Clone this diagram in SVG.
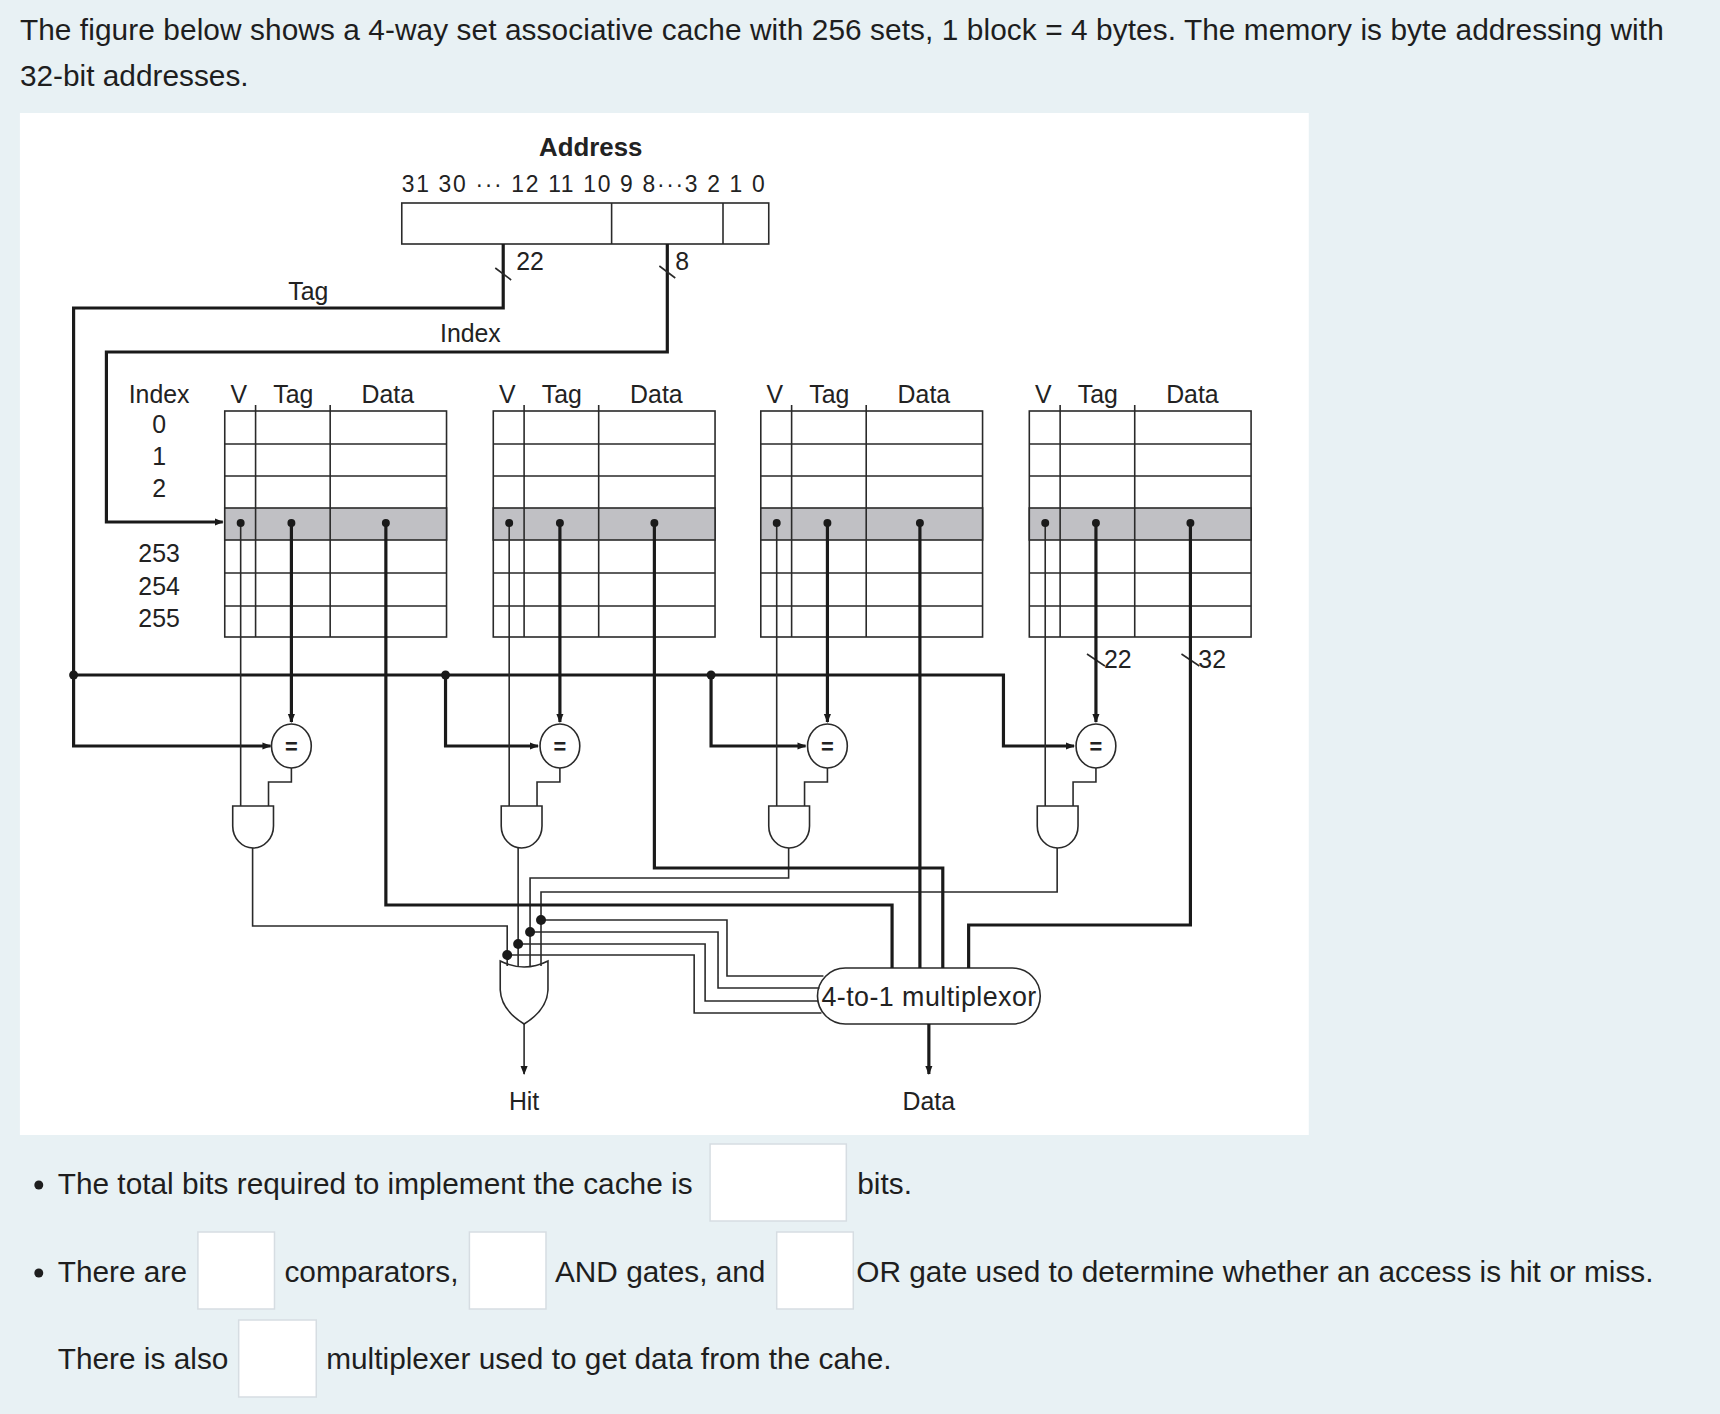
<svg xmlns="http://www.w3.org/2000/svg" width="1720" height="1414" viewBox="0 0 1720 1414">
<defs>
<style>
.t{font-family:"Liberation Sans",Arial,sans-serif;fill:#222}
.q{font-size:30px;fill:#1e1e1e}
.d{font-size:25px}
.th{fill:none;stroke:#1a1a1a;stroke-width:3.2}
.tn{fill:none;stroke:#2a2a2a;stroke-width:1.6}
.g{fill:#fff;stroke:#2a2a2a;stroke-width:1.6}
.box{fill:#fff;stroke:#d6dde2;stroke-width:1.5}
</style>
<marker id="a" viewBox="0 0 10 10" refX="9" refY="5" markerWidth="9" markerHeight="9" markerUnits="userSpaceOnUse" orient="auto"><path d="M0,1 L10,5 L0,9 Z" fill="#1a1a1a"/></marker>
</defs>
<rect width="1720" height="1414" fill="#e8f1f4"/>
<g transform="scale(0.9945,1)">
<text class="t q" x="20" y="40" textLength="1653">The figure below shows a 4-way set associative cache with 256 sets, 1 block = 4 bytes. The memory is byte addressing with</text>
<text class="t q" x="20" y="86">32-bit addresses.</text>
<rect x="20" y="113" width="1296" height="1022" fill="#fff"/>

<g id="address">
<text class="t" x="594" y="156" text-anchor="middle" font-size="26" font-weight="bold">Address</text>
<text class="t" x="404" y="192" font-size="23" textLength="365">31 30 ··· 12 11 10 9 8···3 2 1 0</text>
<rect class="g" x="404" y="203" width="369" height="41"/>
<line class="tn" x1="615" y1="203" x2="615" y2="244"/>
<line class="tn" x1="727" y1="203" x2="727" y2="244"/>
</g>

<g id="labels" class="t d">
<text x="310" y="300" text-anchor="middle">Tag</text>
<text x="473" y="342" text-anchor="middle">Index</text>
<text x="519" y="270">22</text>
<text x="679" y="270">8</text>
<text x="1110" y="668">22</text>
<text x="1205" y="668">32</text>
<text x="160" y="403" text-anchor="middle">Index</text>
<text x="160" y="433" text-anchor="middle">0</text>
<text x="160" y="465" text-anchor="middle">1</text>
<text x="160" y="497" text-anchor="middle">2</text>
<text x="160" y="562" text-anchor="middle">253</text>
<text x="160" y="595" text-anchor="middle">254</text>
<text x="160" y="627" text-anchor="middle">255</text>
<text x="527" y="1110" text-anchor="middle">Hit</text>
<text x="934" y="1110" text-anchor="middle">Data</text>
</g>

<g id="way1">
<text class="t d" x="240" y="403" text-anchor="middle">V</text><text class="t d" x="295" y="403" text-anchor="middle">Tag</text><text class="t d" x="390" y="403" text-anchor="middle">Data</text>
<rect class="g" x="226" y="411" width="223" height="226"/>
<rect x="226" y="508" width="223" height="32" fill="#c0c0c4" stroke="#2a2a2a" stroke-width="1.6"/>
<path class="tn" d="M226,444H449M226,476H449M226,573H449M226,606H449M257,405V637M332,405V637"/>
</g>
<g id="way2">
<text class="t d" x="510" y="403" text-anchor="middle">V</text><text class="t d" x="565" y="403" text-anchor="middle">Tag</text><text class="t d" x="660" y="403" text-anchor="middle">Data</text>
<rect class="g" x="496" y="411" width="223" height="226"/>
<rect x="496" y="508" width="223" height="32" fill="#c0c0c4" stroke="#2a2a2a" stroke-width="1.6"/>
<path class="tn" d="M496,444H719M496,476H719M496,573H719M496,606H719M527,405V637M602,405V637"/>
</g>
<g id="way3">
<text class="t d" x="779" y="403" text-anchor="middle">V</text><text class="t d" x="834" y="403" text-anchor="middle">Tag</text><text class="t d" x="929" y="403" text-anchor="middle">Data</text>
<rect class="g" x="765" y="411" width="223" height="226"/>
<rect x="765" y="508" width="223" height="32" fill="#c0c0c4" stroke="#2a2a2a" stroke-width="1.6"/>
<path class="tn" d="M765,444H988M765,476H988M765,573H988M765,606H988M796,405V637M871,405V637"/>
</g>
<g id="way4">
<text class="t d" x="1049" y="403" text-anchor="middle">V</text><text class="t d" x="1104" y="403" text-anchor="middle">Tag</text><text class="t d" x="1199" y="403" text-anchor="middle">Data</text>
<rect class="g" x="1035" y="411" width="223" height="226"/>
<rect x="1035" y="508" width="223" height="32" fill="#c0c0c4" stroke="#2a2a2a" stroke-width="1.6"/>
<path class="tn" d="M1035,444H1258M1035,476H1258M1035,573H1258M1035,606H1258M1066,405V637M1141,405V637"/>
</g>

<g id="comparators">
<ellipse class="g" cx="293" cy="746" rx="20" ry="22"/><text class="t" x="293" y="754" font-size="22" font-weight="bold" text-anchor="middle">=</text>
<ellipse class="g" cx="563" cy="746" rx="20" ry="22"/><text class="t" x="563" y="754" font-size="22" font-weight="bold" text-anchor="middle">=</text>
<ellipse class="g" cx="832" cy="746" rx="20" ry="22"/><text class="t" x="832" y="754" font-size="22" font-weight="bold" text-anchor="middle">=</text>
<ellipse class="g" cx="1102" cy="746" rx="20" ry="22"/><text class="t" x="1102" y="754" font-size="22" font-weight="bold" text-anchor="middle">=</text>
</g>
<g id="ands">
<path class="g" d="M234,806H275V826A20.5,22 0 0 1 234,826Z"/>
<path class="g" d="M504,806H545V826A20.5,22 0 0 1 504,826Z"/>
<path class="g" d="M773,806H814V826A20.5,22 0 0 1 773,826Z"/>
<path class="g" d="M1043,806H1084V826A20.5,22 0 0 1 1043,826Z"/>
</g>
<g id="or">
<path class="g" d="M503,961Q527,973 551,961V990Q550,1010 527,1024Q504,1010 503,990Z"/>
</g>
<g id="mux">
<rect class="g" x="822" y="968" width="224" height="56" rx="28"/>
<text class="t" x="826" y="1006" font-size="27" textLength="216">4-to-1 multiplexor</text>
</g>

<g id="connectors">
<path class="th" d="M506,244V308H74V746H272" marker-end="url(#a)"/>
<path class="th" d="M671,244V352H107V522H224" marker-end="url(#a)"/>
<path class="tn" d="M498,268L514,280M663,266L679,278M1093,654L1111,666M1188,654L1206,666"/>
<path class="th" d="M74,675H1009V746H1080" marker-end="url(#a)"/>
<path class="th" d="M448,675V746H541" marker-end="url(#a)"/>
<path class="th" d="M715,675V746H810" marker-end="url(#a)"/>
<path class="th" d="M293,523V722" marker-end="url(#a)"/>
<path class="th" d="M563,523V722" marker-end="url(#a)"/>
<path class="th" d="M832,523V722" marker-end="url(#a)"/>
<path class="th" d="M1102,523V722" marker-end="url(#a)"/>
<path class="tn" d="M242,523V806M512,523V806M781,523V806M1051,523V806"/>
<path class="tn" d="M293,768V782H270V806M563,768V782H540V806M832,768V782H809V806M1102,768V782H1079V806"/>
<path class="tn" d="M254,848V926H510V966M521,848V966M793,848V878H533V966M1063,848V892H544V966"/>
<path class="tn" d="M544,920H731V976H828M533,932H722V988H824M521,944H709V1001H823M510,955H698V1013H826"/>
<path class="th" d="M388,523V905H897V968M658,523V868H948V968M925,523V968M1197,523V925H974V968"/>
<path class="tn" d="M527,1024V1074" marker-end="url(#a)"/>
<path class="th" d="M934,1024V1074" marker-end="url(#a)"/>
<g fill="#1a1a1a">
<circle cx="242" cy="523" r="4"/><circle cx="293" cy="523" r="4"/><circle cx="388" cy="523" r="4"/>
<circle cx="512" cy="523" r="4"/><circle cx="563" cy="523" r="4"/><circle cx="658" cy="523" r="4"/>
<circle cx="781" cy="523" r="4"/><circle cx="832" cy="523" r="4"/><circle cx="925" cy="523" r="4"/>
<circle cx="1051" cy="523" r="4"/><circle cx="1102" cy="523" r="4"/><circle cx="1197" cy="523" r="4"/>
<circle cx="74" cy="675" r="4.5"/><circle cx="448" cy="675" r="4.5"/><circle cx="715" cy="675" r="4.5"/>
<circle cx="544" cy="920" r="5"/><circle cx="533" cy="932" r="5"/><circle cx="521" cy="944" r="5"/><circle cx="510" cy="955" r="5"/>
</g>
</g>

<g id="questions">
<circle cx="39" cy="1185" r="4.5" fill="#1e1e1e"/>
<text class="t q" x="58" y="1194">The total bits required to implement the cache is</text>
<rect class="box" x="714" y="1144" width="137" height="77"/>
<text class="t q" x="862" y="1194">bits.</text>
<circle cx="39" cy="1273" r="4.5" fill="#1e1e1e"/>
<text class="t q" x="58" y="1282">There are</text>
<rect class="box" x="199" y="1232" width="77" height="77"/>
<text class="t q" x="286" y="1282">comparators,</text>
<rect class="box" x="472" y="1232" width="77" height="77"/>
<text class="t q" x="558" y="1282">AND gates, and</text>
<rect class="box" x="781" y="1232" width="77" height="77"/>
<text class="t q" x="861" y="1282">OR gate used to determine whether an access is hit or miss.</text>
<text class="t q" x="58" y="1369">There is also</text>
<rect class="box" x="240" y="1320" width="78" height="77"/>
<text class="t q" x="328" y="1369">multiplexer used to get data from the cahe.</text>
</g>
</g>
</svg>
